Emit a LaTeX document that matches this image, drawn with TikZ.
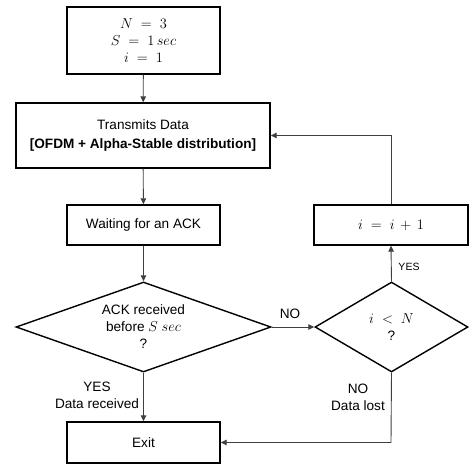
\documentclass[tikz,border=0pt]{standalone}
\usepackage{fontspec}
\setmainfont{Liberation Sans}
\usetikzlibrary{shapes.geometric,arrows.meta}
\begin{document}
\begin{tikzpicture}[x=1pt,y=-1pt,
  every node/.style={font=\fontsize{13.6}{17}\selectfont},
  boxnode/.style={draw=black,line width=1.4pt,rectangle,inner sep=0pt,align=center},
  dia/.style={draw=black,line width=1.4pt,diamond,inner sep=0pt},
  txt/.style={align=center,inner sep=0pt},
  conn/.style={draw=black!75,line width=0.9pt,-{Triangle[width=5.5pt,length=6pt]}},
  lbl/.style={align=center,inner sep=0pt}]
\useasboundingbox (0,0) rectangle (474,467);
\node[boxnode,minimum width=153pt,minimum height=67pt] (init) at (143.5,40.5)
  {$N\;=\;3$\\$S\;=\;1\,sec$\\$i\;=\;1$};
\node[boxnode,minimum width=254pt,minimum height=65pt] (tx) at (143,135.5)
  {Transmits Data\\[2pt]\textbf{[OFDM + Alpha-Stable distribution]}};
\node[boxnode,minimum width=153pt,minimum height=40pt] (wait) at (143.5,225)
  {Waiting for an ACK};
\node[dia,minimum width=255pt,minimum height=90pt] (d1) at (143.5,327) {};
\node[txt] (d1t) at (143.5,327) {ACK received\\before $S\ sec$\\?};
\node[boxnode,minimum width=153pt,minimum height=41pt] (exit) at (143.5,442.5) {Exit};
\node[dia,minimum width=153pt,minimum height=90pt] (d2) at (391.5,327) {};
\node[txt] (d2t) at (391.5,327) {$i\;<\;N$\\?};
\node[boxnode,minimum width=154pt,minimum height=40pt] (inc) at (391,225)
  {$i\;=\;i\,+\,1$};
\coordinate (c1) at (391,135.5);
\coordinate (c2) at (391,442.5);
\draw[conn] (init) -- (tx);
\draw[conn] (tx) -- (wait);
\draw[conn] (wait) -- (d1);
\draw[conn] (d1) -- (exit);
\draw[conn] (d1.east) -- (d2.west);
\draw[conn] (d2.north) -- (inc.south);
\draw[conn] (inc.north) -- (c1) -- (tx.east);
\draw[conn] (d2.south) -- (c2) -- (exit.east);
\node[lbl] (no1) at (290,314) {NO};
\node[lbl,font=\fontsize{10.5}{12}\selectfont] (yes2) at (409,267) {YES};
\node[lbl] (yes1) at (97,395) {YES\\Data received};
\node[lbl] (no2) at (358,397) {NO\\Data lost};
\end{tikzpicture}
\end{document}
